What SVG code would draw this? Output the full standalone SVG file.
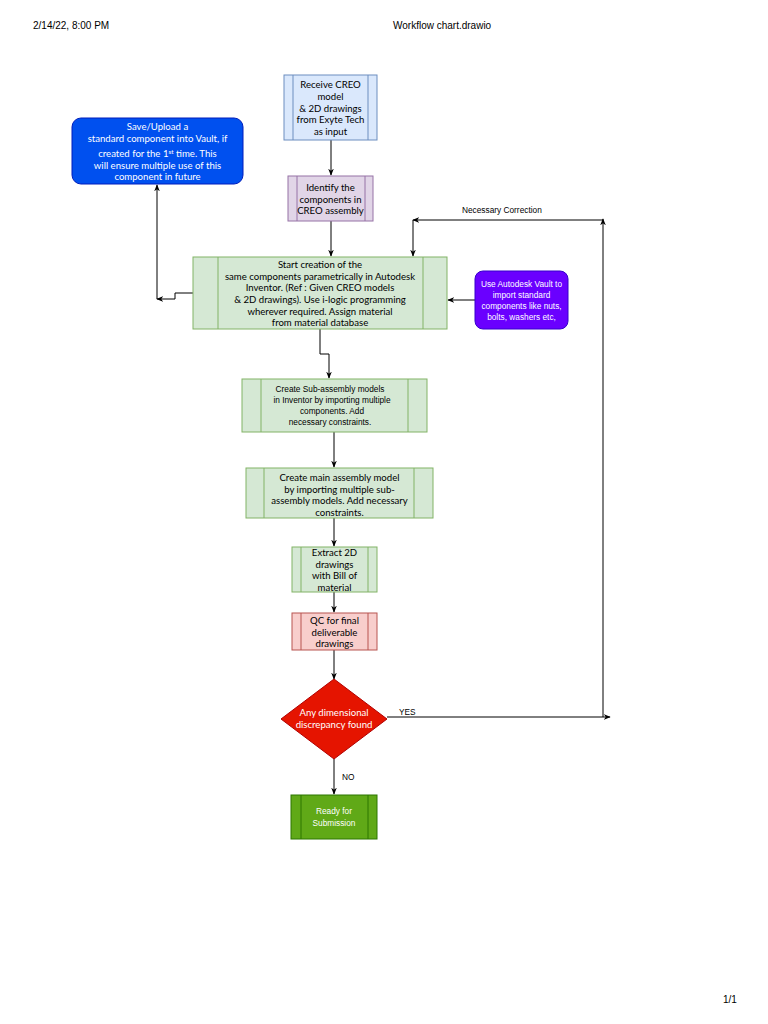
<svg xmlns="http://www.w3.org/2000/svg" width="768" height="1024" viewBox="0 0 768 1024">
<defs>
<marker id="ah" viewBox="0 0 10 10" refX="9" refY="5" markerWidth="7" markerHeight="7" orient="auto" markerUnits="userSpaceOnUse">
<path d="M0,1 L10,5 L0,9 L3,5 Z" fill="#000"/>
</marker>
<style>
.hdr{font-family:"Liberation Sans",Arial,sans-serif;font-size:10px;fill:#000}
.cal{font-family:Lato,"Noto Sans",sans-serif;font-size:9.6px;fill:#000;text-anchor:middle}
.ari{font-family:"Liberation Sans",Arial,sans-serif;font-size:8.3px;fill:#000;text-anchor:middle}
.w{fill:#fff}
.lbl{font-family:"Liberation Sans",Arial,sans-serif;font-size:8.3px;fill:#000}
.edge{fill:none;stroke:#000;stroke-width:1}
.blue{fill:#dae8fc;stroke:#6c8ebf}
.purple{fill:#e1d5e7;stroke:#9673a6}
.green{fill:#d5e8d4;stroke:#82b366}
.red{fill:#f8cecc;stroke:#b85450}
</style>
</defs>
<rect width="768" height="1024" fill="#fff"/>
<text class="hdr" x="33" y="29">2/14/22, 8:00 PM</text>
<text class="hdr" x="393" y="29">Workflow chart.drawio</text>
<text class="hdr" x="723" y="1003">1/1</text>

<g id="edges">
<path class="edge" d="M331,140 V175" marker-end="url(#ah)"/>
<path class="edge" d="M331,221 V256" marker-end="url(#ah)"/>
<path class="edge" d="M475,300 H448" marker-end="url(#ah)"/>
<path class="edge" d="M193,293 H175 V299 H157" marker-end="url(#ah)"/>
<path class="edge" d="M157,299 V185" marker-end="url(#ah)"/>
<path class="edge" d="M320,329 V354 H329 V378" marker-end="url(#ah)"/>
<path class="edge" d="M334,432 V467" marker-end="url(#ah)"/>
<path class="edge" d="M334,518 V546" marker-end="url(#ah)"/>
<path class="edge" d="M334,592 V612" marker-end="url(#ah)"/>
<path class="edge" d="M334,650 V679" marker-end="url(#ah)"/>
<path class="edge" d="M334,759 V794" marker-end="url(#ah)"/>
<path class="edge" d="M387,717 H610" marker-end="url(#ah)"/>
<path class="edge" d="M603,717 V219" marker-end="url(#ah)"/>
<path class="edge" d="M603,220 H413" marker-end="url(#ah)"/>
<path class="edge" d="M413,220 V256" marker-end="url(#ah)"/>
<text class="lbl" x="462" y="213">Necessary Correction</text>
<text class="lbl" x="399" y="715">YES</text>
<text class="lbl" x="342" y="780">NO</text>
</g>

<g id="receive">
<rect class="blue" x="284" y="75" width="93" height="65"/>
<path class="blue" d="M293,75 V140 M368,75 V140" fill="none"/>
<text class="cal"><tspan x="330.5" y="88">Receive CREO</tspan><tspan x="330.5" y="100">model</tspan><tspan x="330.5" y="111.5">&amp; 2D drawings</tspan><tspan x="330.5" y="123">from Exyte Tech</tspan><tspan x="330.5" y="135">as input</tspan></text>
</g>

<g id="save">
<rect x="72" y="118" width="171" height="66" rx="9" fill="#0050ef" stroke="#001dbc"/>
<text class="cal w"><tspan x="157.5" y="130">Save/Upload a</tspan><tspan x="157.5" y="142">standard component into Vault, if</tspan><tspan x="157.5" y="157">created for the 1<tspan font-size="6.5" dy="-3.5">st</tspan><tspan dy="3.5"> time. This</tspan></tspan><tspan x="157.5" y="168.5">will ensure multiple use of this</tspan><tspan x="157.5" y="180">component in future</tspan></text>
</g>

<g id="identify">
<rect class="purple" x="288" y="176" width="85" height="45"/>
<path class="purple" d="M297,176 V221 M365,176 V221" fill="none"/>
<text class="cal"><tspan x="330.5" y="191">Identify the</tspan><tspan x="330.5" y="202.5">components in</tspan><tspan x="330.5" y="214">CREO assembly</tspan></text>
</g>

<g id="start">
<rect class="green" x="193" y="257" width="254" height="72"/>
<path class="green" d="M218,257 V329 M423,257 V329" fill="none"/>
<text class="cal"><tspan x="320" y="268">Start creation of the</tspan><tspan x="320" y="279.5">same components parametrically in Autodesk</tspan><tspan x="320" y="291">Inventor. (Ref : Given CREO models</tspan><tspan x="320" y="303">&amp; 2D drawings). Use i-logic programming</tspan><tspan x="320" y="314.5">wherever required. Assign material</tspan><tspan x="320" y="326">from material database</tspan></text>
</g>

<g id="vault">
<rect x="475" y="271" width="93" height="58" rx="8" fill="#6a00ff" stroke="#3700cc"/>
<text class="ari w"><tspan x="521.5" y="287">Use Autodesk Vault to</tspan><tspan x="521.5" y="298">import standard</tspan><tspan x="521.5" y="309">components like nuts,</tspan><tspan x="521.5" y="320">bolts, washers etc,</tspan></text>
</g>

<g id="subassembly">
<rect class="green" x="242" y="379" width="185" height="53"/>
<path class="green" d="M261,379 V432 M408,379 V432" fill="none"/>
<text class="ari"><tspan x="330" y="392">Create Sub-assembly models</tspan><tspan x="332" y="403">in Inventor by importing multiple</tspan><tspan x="332" y="414">components.  Add</tspan><tspan x="330" y="425">necessary constraints.</tspan></text>
</g>

<g id="mainassembly">
<rect class="green" x="246" y="468" width="187" height="50"/>
<path class="green" d="M264,468 V518 M414,468 V518" fill="none"/>
<text class="cal"><tspan x="339.5" y="481">Create main assembly model</tspan><tspan x="339.5" y="492.5">by importing multiple sub-</tspan><tspan x="339.5" y="504">assembly models. Add necessary</tspan><tspan x="339.5" y="515.5">constraints.</tspan></text>
</g>

<g id="extract">
<rect class="green" x="292" y="547" width="85" height="45"/>
<path class="green" d="M301,547 V592 M368,547 V592" fill="none"/>
<text class="cal"><tspan x="334.5" y="556">Extract 2D</tspan><tspan x="334.5" y="567.5">drawings</tspan><tspan x="334.5" y="579">with Bill of</tspan><tspan x="334.5" y="590.5">material</tspan></text>
</g>

<g id="qc">
<rect class="red" x="292" y="613" width="85" height="37"/>
<path class="red" d="M301,613 V650 M368,613 V650" fill="none"/>
<text class="cal"><tspan x="334.5" y="624">QC for final</tspan><tspan x="334.5" y="635.5">deliverable</tspan><tspan x="334.5" y="647">drawings</tspan></text>
</g>

<g id="decision">
<path d="M334,679 L387,719 L334,759 L281,719 Z" fill="#e51400" stroke="#b20000"/>
<text class="cal w"><tspan x="334" y="716">Any dimensional</tspan><tspan x="334" y="727.5">discrepancy found</tspan></text>
</g>

<g id="ready">
<rect x="291" y="795" width="86" height="44" fill="#60a917" stroke="#2d7600"/>
<path d="M301,795 V839 M368,795 V839" stroke="#2d7600" fill="none"/>
<text class="ari w"><tspan x="334" y="814">Ready for</tspan><tspan x="334" y="826">Submission</tspan></text>
</g>
</svg>
